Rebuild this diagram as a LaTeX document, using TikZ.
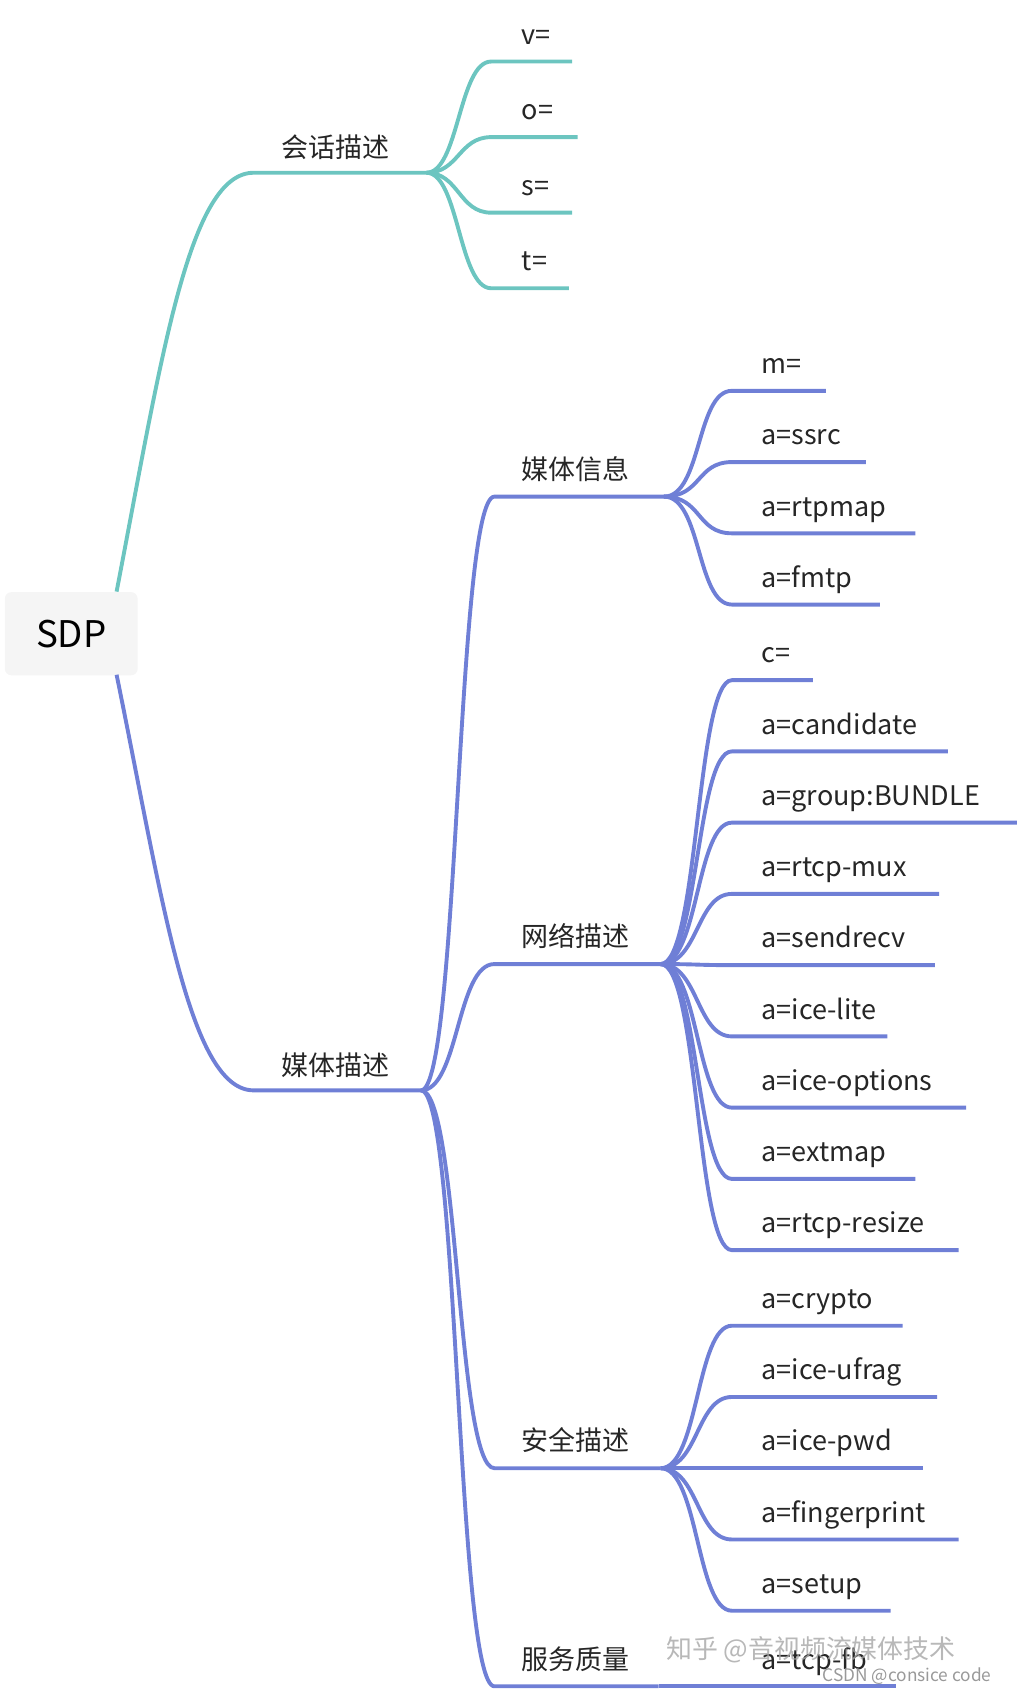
\documentclass[tikz,border=0pt]{standalone}
\usepackage{fontspec}
\setmainfont{Noto Sans CJK SC}
\begin{document}
\begin{tikzpicture}[x=0.5pt,y=-0.5pt,
  tealline/.style={draw=teal1,line width=1.8pt},
  blueline/.style={draw=blue1,line width=1.8pt},
  lab/.style={font=\fontsize{12.5}{14}\selectfont,inner sep=0pt,anchor=base west,text=black!85}]
\definecolor{teal1}{HTML}{6CC5C0}
\definecolor{blue1}{HTML}{6F7FD6}
\useasboundingbox (0,0) rectangle (945,1571);
\node[fill=black!4,rounded corners=3pt,minimum width=61.5pt,minimum height=38.5pt,inner sep=0pt,font=\fontsize{17}{19}\selectfont] (sdp) at (66,587) {SDP};
\coordinate (st) at (108,548);
\coordinate (sb) at (108,625);
% session
\coordinate (s1) at (395,160);
\draw[tealline] (st) .. controls (150,330) and (175,160) .. (235,160) -- (s1);
\node[lab] (sl) at (260,146) {会话描述};
\foreach \t/\y/\e [count=\i] in {v=/57/530,o=/127/535,s=/197/530,t=/267/527}{
  \coordinate (sc\i) at (\e,\y);
  \draw[tealline] (s1) .. controls (425,160) and (425,\y) .. (455,\y) -- (sc\i);
  \node[lab] at (483,\y-16) {\t};
}
% media
\coordinate (m1) at (390,1010);
\draw[blueline] (sb) .. controls (150,830) and (175,1010) .. (235,1010) -- (m1);
\node[lab] (ml) at (260,996) {媒体描述};
\coordinate (a1) at (615,460);
\coordinate (a2) at (612,893);
\coordinate (a3) at (612,1360);
\coordinate (a4) at (610,1562);
\foreach \n/\y/\txt in {a1/460/媒体信息,a2/893/网络描述,a3/1360/安全描述,a4/1562/服务质量}{
  \draw[blueline] (m1) .. controls (425,1010) and (423,\y) .. (458,\y) -- (\n);
  \node[lab] at (483,\y-16) {\txt};
}
\foreach \t/\y/\e in {m=/362/765,a=ssrc/428/802,a=rtpmap/494/848,a=fmtp/560/815}{
  \draw[blueline] (a1) .. controls (650,460) and (645,\y) .. (678,\y) -- (\e,\y);
  \node[lab] at (705,\y-16) {\t};
}
\foreach \t/\y/\e in {c=/630/753,a=candidate/696/878,a=group:BUNDLE/762/942,a=rtcp-mux/828/870,a=sendrecv/894/866,a=ice-lite/960/822,a=ice-options/1026/895,a=extmap/1092/848,a=rtcp-resize/1158/888}{
  \draw[blueline] (a2) .. controls (647,893) and (645,\y) .. (678,\y) -- (\e,\y);
  \node[lab] at (705,\y-16) {\t};
}
\foreach \t/\y/\e in {a=crypto/1228/836,a=ice-ufrag/1294/868,a=ice-pwd/1360/855,a=fingerprint/1426/888,a=setup/1492/825}{
  \draw[blueline] (a3) .. controls (647,1360) and (645,\y) .. (678,\y) -- (\e,\y);
  \node[lab] at (705,\y-16) {\t};
}
\coordinate (q1) at (830,1562);
\draw[blueline] (a4) -- (q1);
\node[lab] at (705,1546) {a=tcp-fb};
\node[font=\fontsize{12}{14}\selectfont,text=black!35,opacity=0.8,anchor=west] (wm) at (610,1528) {知乎 @音视频流媒体技术};
\node[font=\fontsize{8}{9}\selectfont,text=black!40,anchor=west] (wm2) at (755,1553) {CSDN @consice code};
\end{tikzpicture}
\end{document}
